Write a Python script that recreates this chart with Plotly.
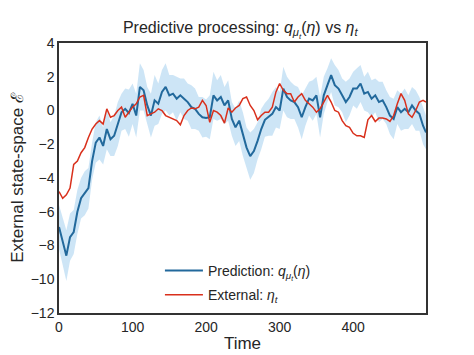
import plotly.graph_objects as go

time = list(range(0, 500, 5)) + [499]

external = [-4.8, -5.2, -5.0, -4.6, -3.2, -3.0, -2.5, -2.2, -1.6, -1.1,
            -0.8, -0.6, -0.8, 0.1, -0.4, -0.3, 0.0, 0.2, -0.4, -0.1,
            0.2, 0.4, 0.8, 0.9, -0.3, -0.2, -0.1, 0.1, 0.0, -0.3,
            -0.4, -0.5, -0.6, -0.85, -0.3, 0.0, 0.15, 0.1, 0.2, 0.6,
            0.3, -0.7, 0.0, -0.1, -0.3, -0.75, 0.15, -0.1, 0.15, 0.3,
            0.7, 0.8, 0.3, 0.0, -0.55, -0.3, -0.1, -0.1, 0.2, 1.1,
            1.6, 1.2, 1.0, 1.0, 0.5, 0.8, 1.0, 0.6, 0.4, 0.2,
            -0.1, 0.1, 0.5, 0.9, 0.5, 0.0, -0.1, -0.6, -0.9, -1.0,
            -1.35, -1.5, -1.5, -1.6, -0.55, -0.3, -0.65, -0.45, -0.45, -0.5,
            -0.65, -0.3, 0.4, 1.0, 0.6, -0.2, -0.4, 0.0, 0.5, 0.6,
            0.5]

prediction = [-6.9, -7.8, -8.6, -7.5, -7.2, -6.0, -5.2, -4.9, -4.6, -3.0,
              -1.9, -1.6, -2.1, -1.1, -1.7, -1.5, -0.8, -0.1, 0.1, -0.15,
              0.4, -0.3, 1.4, 1.2, 0.3, -0.3, 0.6, 0.4, 1.1, 1.4,
              0.9, 1.0, 0.7, 0.9, 0.7, 0.5, 0.2, 0.1, -0.2, -0.4,
              -0.45, -0.4, 0.9, 0.6, 0.8, 0.3, 0.6, -0.5, -1.0, -0.6,
              -1.4, -2.2, -2.7, -2.4, -1.8, -1.1, -0.55, -0.4, -0.2, 0.2,
              0.0, 1.3, 0.8, 0.6, 0.5, 0.2, -0.4, 0.2, 0.7, 0.6,
              0.9, -0.4, 0.9, 1.5, 2.1, 1.5, 1.3, 0.9, 0.5, 0.8,
              1.3, 1.3, 1.6, 1.0, 1.1, 0.7, 0.9, 0.5, 0.6, 0.2,
              -0.3, -0.5, 0.2, -0.1, 0.1, -0.1, 0.3, 0.0, -0.2, -0.9,
              -1.3]

pred_std = [1.3, 1.4, 1.5, 1.4, 1.3, 1.3, 1.2, 1.3, 1.2, 1.1,
            1.2, 1.3, 1.1, 1.2, 1.0, 1.2, 1.3, 1.1, 1.2, 1.4,
            1.2, 1.3, 1.4, 1.2, 1.1, 1.3, 1.5, 1.2, 1.3, 1.4,
            1.2, 1.1, 1.3, 1.0, 1.2, 1.1, 1.3, 1.2, 1.0, 1.2,
            1.1, 1.3, 1.4, 1.2, 1.3, 1.1, 1.2, 1.0, 1.1, 1.2,
            1.3, 1.2, 1.4, 1.3, 1.1, 1.2, 1.0, 1.1, 1.3, 1.2,
            1.1, 1.3, 1.2, 1.1, 1.0, 1.2, 1.3, 1.1, 1.0, 1.2,
            1.1, 1.2, 1.1, 1.0, 1.0, 1.2, 1.1, 1.0, 1.2, 1.1,
            1.0, 1.2, 1.1, 1.0, 1.2, 1.1, 1.0, 1.2, 1.1, 1.0,
            1.1, 1.2, 1.0, 1.1, 1.2, 1.0, 1.1, 1.2, 1.0, 1.1,
            1.0]

y_ticks = [-12, -10, -8, -6, -4, -2, 0, 2, 4]
x_ticks = [0, 100, 200, 300, 400]

upper = [p + s for p, s in zip(prediction, pred_std)]
lower = [p - s for p, s in zip(prediction, pred_std)]

BLUE = "#22699c"
RED = "#d9301c"
BAND = "rgba(130,190,232,0.40)"
FONT = "Liberation Sans, Arial, sans-serif"

fig = go.Figure()
fig.add_trace(go.Scatter(x=time, y=upper, mode="lines", line=dict(width=0),
                         showlegend=False, hoverinfo="skip"))
fig.add_trace(go.Scatter(x=time, y=lower, mode="lines", line=dict(width=0),
                         fill="tonexty", fillcolor=BAND, showlegend=False,
                         hoverinfo="skip"))
fig.add_trace(go.Scatter(x=time, y=prediction, mode="lines",
                         line=dict(color=BLUE, width=2),
                         name="Prediction: <i>q</i><sub><i>μ<sub>t</sub></i></sub>(<i>η</i>)",
                         legendgroup="a"))
fig.add_trace(go.Scatter(x=time, y=external, mode="lines",
                         line=dict(color=RED, width=1.5),
                         name="External: <i>η<sub>t</sub></i>",
                         legendgroup="b"))

fig.update_layout(
    width=474, height=355,
    margin=dict(l=51, r=56, t=35, b=50, autoexpand=False),
    paper_bgcolor="white", plot_bgcolor="white",
    font=dict(family=FONT, size=14, color="#262626"),
    title=dict(text="Predictive processing: <i>q</i><sub><i>μ<sub>t</sub></i></sub>(<i>η</i>) vs <i>η<sub>t</sub></i>",
               x=0.49, xanchor="center", y=0.945, yanchor="middle",
               font=dict(size=16, color="#262626")),
    legend=dict(x=0.275, y=0.215, xanchor="left", yanchor="top",
                bgcolor="rgba(0,0,0,0)", font=dict(size=14),
                tracegroupgap=3, itemwidth=38),
    showlegend=True,
)
fig.update_xaxes(range=[0, 499], tickvals=x_ticks, showgrid=False, zeroline=False,
                 showline=True, mirror=True, linecolor="#333", linewidth=1.5,
                 ticks="", automargin=False, title=dict(text="Time", standoff=4))
fig.update_yaxes(range=[-12, 4], tickvals=y_ticks, showgrid=False, zeroline=False,
                 showline=True, mirror=True, linecolor="#333", linewidth=1.5,
                 ticks="", automargin=False,
                 title=dict(text="External state-space ℰ", standoff=8))

fig.write_html("out.html")
